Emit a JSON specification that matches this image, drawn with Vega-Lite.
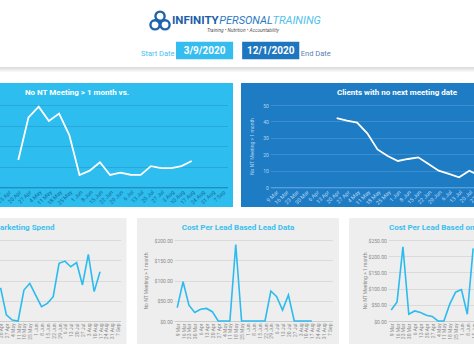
{
  "$schema": "https://vega.github.io/schema/vega-lite/v6.json",
  "padding": {"left": -79, "top": 0, "right": 0, "bottom": 0},
  "background": "#ffffff",
  "spacing": 11,
  "config": {"view": {"stroke": null}, "font": "Roboto"},
  "datasets": {
    "dates": [
      {"box": "Start", "date": "3/9/2020", "label": "Start Date"},
      {"box": "End", "date": "12/1/2020", "label": "End Date"}
    ],
    "brand": [{"word": "INFINITY"}, {"word": "PERSONAL"}, {"word": "TRAINING"}],
    "tagline": [{"text": "Training • Nutrition • Accountability"}],
    "noMeetingVs": [
      {"week": "20 Apr", "clients": 13.3}, {"week": "27 Apr", "clients": 34}, {"week": "4 May", "clients": 39.2},
      {"week": "11 May", "clients": 32.2}, {"week": "18 May", "clients": 35.8}, {"week": "25 May", "clients": 25.4},
      {"week": "1 Jun", "clients": 6}, {"week": "8 Jun", "clients": 8.1}, {"week": "15 Jun", "clients": 12.2},
      {"week": "22 Jun", "clients": 6}, {"week": "29 Jun", "clients": 7.1}, {"week": "6 Jul", "clients": 6.1},
      {"week": "13 Jul", "clients": 6}, {"week": "20 Jul", "clients": 10.3}, {"week": "27 Jul", "clients": 9.3},
      {"week": "3 Aug", "clients": 9.3}, {"week": "10 Aug", "clients": 10.3}, {"week": "17 Aug", "clients": 12.8}
    ],
    "noNextMeeting": [
      {"week": "20 Apr", "clients": 42}, {"week": "27 Apr", "clients": 40.5}, {"week": "4 May", "clients": 39.3},
      {"week": "11 May", "clients": 32.8}, {"week": "18 May", "clients": 23}, {"week": "25 May", "clients": 19},
      {"week": "1 Jun", "clients": 16}, {"week": "8 Jun", "clients": 17.2}, {"week": "15 Jun", "clients": 18.2},
      {"week": "22 Jun", "clients": 14.2}, {"week": "29 Jun", "clients": 10.1}, {"week": "6 Jul", "clients": 8.1},
      {"week": "13 Jul", "clients": 6.1}, {"week": "20 Jul", "clients": 10.1}, {"week": "27 Jul", "clients": 7}
    ],
    "marketingSpend": [
      {"week": "20 Apr", "spend": 164}, {"week": "27 Apr", "spend": 30}, {"week": "4 May", "spend": 5},
      {"week": "11 May", "spend": 0}, {"week": "18 May", "spend": 153}, {"week": "25 May", "spend": 186},
      {"week": "1 Jun", "spend": 128}, {"week": "8 Jun", "spend": 71}, {"week": "15 Jun", "spend": 87},
      {"week": "22 Jun", "spend": 120}, {"week": "29 Jun", "spend": 285}, {"week": "6 Jul", "spend": 296},
      {"week": "13 Jul", "spend": 268}, {"week": "20 Jul", "spend": 288}, {"week": "27 Jul", "spend": 178},
      {"week": "3 Aug", "spend": 329}, {"week": "10 Aug", "spend": 145}, {"week": "17 Aug", "spend": 243}
    ],
    "cplLeadData": [
      {"week": "9 Mar", "cost": 33}, {"week": "16 Mar", "cost": 97}, {"week": "23 Mar", "cost": 39},
      {"week": "30 Mar", "cost": 21}, {"week": "6 Apr", "cost": 29}, {"week": "13 Apr", "cost": 31},
      {"week": "20 Apr", "cost": 23}, {"week": "27 Apr", "cost": 0}, {"week": "4 May", "cost": 0},
      {"week": "11 May", "cost": 0}, {"week": "18 May", "cost": 189}, {"week": "25 May", "cost": 0},
      {"week": "1 Jun", "cost": 0}, {"week": "8 Jun", "cost": 0}, {"week": "15 Jun", "cost": 0},
      {"week": "22 Jun", "cost": 0}, {"week": "29 Jun", "cost": 74}, {"week": "6 Jul", "cost": 60},
      {"week": "13 Jul", "cost": 27}, {"week": "20 Jul", "cost": 64}, {"week": "27 Jul", "cost": 0},
      {"week": "3 Aug", "cost": 0}, {"week": "10 Aug", "cost": 0}, {"week": "17 Aug", "cost": 0}
    ],
    "cplSpend": [
      {"week": "9 Mar", "cost": 34}, {"week": "16 Mar", "cost": 59}, {"week": "23 Mar", "cost": 229},
      {"week": "30 Mar", "cost": 21}, {"week": "6 Apr", "cost": 31}, {"week": "13 Apr", "cost": 26},
      {"week": "20 Apr", "cost": 18}, {"week": "27 Apr", "cost": 14}, {"week": "4 May", "cost": 0},
      {"week": "11 May", "cost": 0}, {"week": "18 May", "cost": 52}, {"week": "25 May", "cost": 89},
      {"week": "1 Jun", "cost": 97}, {"week": "8 Jun", "cost": 21}, {"week": "15 Jun", "cost": 224}
    ]
  },
  "vconcat": [
    {
      "width": 632,
      "height": 72,
      "view": {"fill": "#ffffff", "stroke": null},
      "resolve": {"scale": {"x": "independent", "y": "independent", "color": "independent"}},
      "layer": [
        {
          "data": {"values": [{"part": "separator"}]},
          "mark": {"type": "rect", "color": {"gradient": "linear", "x1": 0, "y1": 0, "x2": 0, "y2": 1, "stops": [{"offset": 0, "color": "#d8d8d8"}, {"offset": 1, "color": "#fbfbfb"}]}},
          "encoding": {
            "y": {"field": "part", "type": "nominal", "scale": {"type": "band", "range": [67, 72], "paddingInner": 0, "paddingOuter": 0}, "axis": null}
          }
        },
        {
          "data": {"name": "dates"},
          "mark": {"type": "rect"},
          "encoding": {
            "x": {"field": "box", "type": "nominal", "scale": {"type": "band", "domain": ["Start", "End"], "range": [255, 378.3], "paddingInner": 0.136, "paddingOuter": 0}, "axis": null},
            "y": {"datum": "dates", "type": "nominal", "scale": {"type": "band", "domain": ["dates"], "range": [41.7, 59.3], "paddingInner": 0, "paddingOuter": 0}, "axis": null},
            "color": {"field": "box", "type": "nominal", "scale": {"domain": ["Start", "End"], "range": ["#34bdee", "#1e76bf"]}, "legend": null}
          }
        },
        {
          "data": {"name": "dates"},
          "mark": {"type": "text", "color": "#ffffff", "font": "Roboto", "fontWeight": "bold", "fontSize": 10, "baseline": "middle"},
          "encoding": {
            "x": {"field": "box", "type": "nominal", "scale": {"type": "band", "domain": ["Start", "End"], "range": [255, 378.3], "paddingInner": 0.136, "paddingOuter": 0}, "axis": null},
            "y": {"datum": "dates", "type": "nominal", "scale": {"type": "band", "domain": ["dates"], "range": [41.7, 59.3], "paddingInner": 0, "paddingOuter": 0}, "axis": null},
            "text": {"field": "date"}
          }
        },
        {
          "data": {"name": "dates"},
          "transform": [{"filter": "datum.box === 'Start'"}],
          "mark": {"type": "text", "align": "right", "dx": -1.5, "dy": 3.5, "baseline": "middle", "fontSize": 7.5, "color": "#45c2f0"},
          "encoding": {
            "x": {"field": "box", "type": "nominal", "bandPosition": 0, "scale": {"type": "band", "domain": ["Start", "End"], "range": [255, 378.3], "paddingInner": 0.136, "paddingOuter": 0}, "axis": null},
            "y": {"datum": "dates", "type": "nominal", "scale": {"type": "band", "domain": ["dates"], "range": [41.7, 59.3], "paddingInner": 0, "paddingOuter": 0}, "axis": null},
            "text": {"field": "label"}
          }
        },
        {
          "data": {"name": "dates"},
          "transform": [{"filter": "datum.box === 'End'"}],
          "mark": {"type": "text", "align": "left", "dx": 1.5, "dy": 3.5, "baseline": "middle", "fontSize": 7.5, "color": "#5a80b6"},
          "encoding": {
            "x": {"field": "box", "type": "nominal", "bandPosition": 1, "scale": {"type": "band", "domain": ["Start", "End"], "range": [255, 378.3], "paddingInner": 0.136, "paddingOuter": 0}, "axis": null},
            "y": {"datum": "dates", "type": "nominal", "scale": {"type": "band", "domain": ["dates"], "range": [41.7, 59.3], "paddingInner": 0, "paddingOuter": 0}, "axis": null},
            "text": {"field": "label"}
          }
        },
        {
          "data": {"name": "brand"},
          "transform": [{"filter": "datum.word === 'INFINITY'"}],
          "mark": {"type": "text", "font": "Roboto", "fontWeight": "bold", "fontSize": 11.5, "baseline": "middle", "color": "#1d5ea8"},
          "encoding": {
            "x": {"field": "word", "type": "nominal", "scale": {"type": "band", "domain": ["INFINITY", "PERSONAL", "TRAINING"], "range": [249, 401], "paddingInner": 0, "paddingOuter": 0}, "axis": null},
            "y": {"datum": "logo", "type": "nominal", "scale": {"type": "band", "domain": ["logo"], "range": [12, 30], "paddingInner": 0, "paddingOuter": 0}, "axis": null},
            "text": {"field": "word"}
          }
        },
        {
          "data": {"name": "brand"},
          "transform": [{"filter": "datum.word !== 'INFINITY'"}],
          "mark": {"type": "text", "font": "Roboto", "fontStyle": "italic", "fontSize": 11, "baseline": "middle"},
          "encoding": {
            "x": {"field": "word", "type": "nominal", "scale": {"type": "band", "domain": ["INFINITY", "PERSONAL", "TRAINING"], "range": [249, 401], "paddingInner": 0, "paddingOuter": 0}, "axis": null},
            "y": {"datum": "logo", "type": "nominal", "scale": {"type": "band", "domain": ["logo"], "range": [12, 30], "paddingInner": 0, "paddingOuter": 0}, "axis": null},
            "color": {"field": "word", "type": "nominal", "scale": {"domain": ["PERSONAL", "TRAINING"], "range": ["#2b79c2", "#4fc1ee"]}, "legend": null},
            "text": {"field": "word"}
          }
        },
        {
          "data": {"name": "tagline"},
          "mark": {"type": "text", "fontStyle": "italic", "fontSize": 4.8, "dx": -3, "dy": 9.5, "baseline": "middle", "color": "#555555"},
          "encoding": {
            "x": {"datum": "PERSONAL", "type": "nominal", "scale": {"type": "band", "domain": ["INFINITY", "PERSONAL", "TRAINING"], "range": [249, 401], "paddingInner": 0, "paddingOuter": 0}, "axis": null},
            "y": {"datum": "logo", "type": "nominal", "scale": {"type": "band", "domain": ["logo"], "range": [12, 30], "paddingInner": 0, "paddingOuter": 0}, "axis": null},
            "text": {"field": "text"}
          }
        },
        {
          "data": {"name": "brand"},
          "transform": [{"filter": "datum.word === 'INFINITY'"}],
          "mark": {"type": "point", "shape": "M-0.46,-0.48A0.46,0.46 0 1,1 0.46,-0.48A0.46,0.46 0 1,1 -0.46,-0.48ZM-0.96,0.38A0.46,0.46 0 1,1 -0.04,0.38A0.46,0.46 0 1,1 -0.96,0.38ZM0.04,0.38A0.46,0.46 0 1,1 0.96,0.38A0.46,0.46 0 1,1 0.04,0.38Z", "filled": false, "size": 400, "strokeWidth": 2.4, "opacity": 1, "color": "#1f63ad", "xOffset": -35.3},
          "encoding": {
            "x": {"field": "word", "type": "nominal", "scale": {"type": "band", "domain": ["INFINITY", "PERSONAL", "TRAINING"], "range": [249, 401], "paddingInner": 0, "paddingOuter": 0}, "axis": null},
            "y": {"datum": "logo", "type": "nominal", "scale": {"type": "band", "domain": ["logo"], "range": [12, 30], "paddingInner": 0, "paddingOuter": 0}, "axis": null}
          }
        }
      ]
    },
    {
      "spacing": 8,
      "hconcat": [
        {
          "width": 312,
          "height": 124,
          "view": {"fill": "#2dbdee", "stroke": null},
          "title": {"text": "No NT Meeting > 1 month vs.", "color": "#ffffff", "fontSize": 8, "fontWeight": "bold", "anchor": "middle", "frame": "group", "offset": -18, "baseline": "middle"},
          "data": {"name": "noMeetingVs"},
          "mark": {"type": "line", "color": "#ffffff", "strokeWidth": 1.8},
          "encoding": {
            "x": {"field": "week", "type": "ordinal", "sort": null,
              "scale": {"type": "point", "domain": ["9 Mar","16 Mar","23 Mar","30 Mar","6 Apr","13 Apr","20 Apr","27 Apr","4 May","11 May","18 May","25 May","1 Jun","8 Jun","15 Jun","22 Jun","29 Jun","6 Jul","13 Jul","20 Jul","27 Jul","3 Aug","10 Aug","17 Aug","24 Aug","31 Aug","7 Sep"], "range": [31, 306.4], "padding": 0.5},
              "axis": {"title": null, "offset": -19.7, "labelAngle": -45, "labelFontSize": 5.5, "labelColor": "#1b6e9b", "labelPadding": 2, "ticks": false, "domainColor": "#1a86b5", "grid": false, "labelOverlap": false}},
            "y": {"field": "clients", "type": "quantitative",
              "scale": {"domain": [0, 40], "range": [104.3, 22], "nice": false},
              "axis": {"values": [0, 10, 20, 30, 40], "offset": -31, "domain": false, "ticks": false, "grid": true, "gridColor": "#27a8d8", "labelFontSize": 5, "labelColor": "#1b6e9b", "title": "No NT Meeting > 1 month", "titleFontSize": 5, "titleColor": "#1b6e9b", "titleFontWeight": "normal", "titlePadding": 8}}
          }
        },
        {
          "width": 312,
          "height": 124,
          "view": {"fill": "#1e7cc4", "stroke": null},
          "title": {"text": "Clients with no next meeting date", "color": "#ffffff", "fontSize": 8, "fontWeight": "bold", "anchor": "middle", "frame": "group", "offset": -18, "baseline": "middle"},
          "data": {"name": "noNextMeeting"},
          "mark": {"type": "line", "color": "#ffffff", "strokeWidth": 1.8},
          "encoding": {
            "x": {"field": "week", "type": "ordinal", "sort": null,
              "scale": {"type": "point", "domain": ["9 Mar","16 Mar","23 Mar","30 Mar","6 Apr","13 Apr","20 Apr","27 Apr","4 May","11 May","18 May","25 May","1 Jun","8 Jun","15 Jun","22 Jun","29 Jun","6 Jul","13 Jul","20 Jul","27 Jul","3 Aug","10 Aug","17 Aug","24 Aug","31 Aug","7 Sep"], "range": [29.4, 304.8], "padding": 0.5},
              "axis": {"title": null, "offset": -19.7, "labelAngle": -45, "labelFontSize": 5.5, "labelColor": "#b3d3ef", "labelPadding": 2, "ticks": false, "domainColor": "#62a7de", "grid": false, "labelOverlap": false}},
            "y": {"field": "clients", "type": "quantitative",
              "scale": {"domain": [0, 50], "range": [104.3, 22], "nice": false},
              "axis": {"values": [0, 10, 20, 30, 40, 50], "offset": -29.4, "domain": false, "ticks": false, "grid": true, "gridColor": "#3a8ed0", "labelFontSize": 5, "labelColor": "#b3d3ef", "title": "No NT Meeting > 1 month", "titleFontSize": 5, "titleColor": "#b3d3ef", "titleFontWeight": "normal", "titlePadding": 8}}
          }
        }
      ]
    },
    {
      "spacing": 10,
      "hconcat": [
        {
          "width": 205.5,
          "height": 126,
          "view": {"fill": "#eeeeee", "stroke": null},
          "title": {"text": "Marketing Spend", "color": "#3bbfee", "fontSize": 8, "fontWeight": "bold", "anchor": "middle", "frame": "group", "offset": -17.5, "baseline": "middle"},
          "data": {"name": "marketingSpend"},
          "mark": {"type": "line", "color": "#2bbbee", "strokeWidth": 1.6},
          "encoding": {
            "x": {"field": "week", "type": "ordinal", "sort": null,
              "scale": {"type": "point", "domain": ["9 Mar","16 Mar","23 Mar","30 Mar","6 Apr","13 Apr","20 Apr","27 Apr","4 May","11 May","18 May","25 May","1 Jun","8 Jun","15 Jun","22 Jun","29 Jun","6 Jul","13 Jul","20 Jul","27 Jul","3 Aug","10 Aug","17 Aug","24 Aug","31 Aug","7 Sep"], "range": [41.5, 199.5], "padding": 0.5},
              "axis": {"title": null, "offset": -23, "labelAngle": -90, "labelFontSize": 5, "labelColor": "#8a8a8a", "labelPadding": 2, "ticks": false, "domainColor": "#cccccc", "grid": false, "labelOverlap": false}},
            "y": {"field": "spend", "type": "quantitative",
              "scale": {"domain": [0, 400], "range": [103, 22], "nice": false},
              "axis": {"values": [0, 100, 200, 300, 400], "format": "$,.2f", "offset": -41.5, "domain": false, "ticks": false, "grid": true, "gridColor": "#dadada", "labelFontSize": 5, "labelColor": "#8a8a8a", "title": "Spend", "titleFontSize": 5, "titleColor": "#8a8a8a", "titleFontWeight": "normal", "titlePadding": 5}}
          }
        },
        {
          "width": 202,
          "height": 126,
          "view": {"fill": "#eeeeee", "stroke": null},
          "title": {"text": "Cost Per Lead Based Lead Data", "color": "#3bbfee", "fontSize": 8, "fontWeight": "bold", "anchor": "middle", "frame": "group", "offset": -17.5, "baseline": "middle"},
          "data": {"name": "cplLeadData"},
          "mark": {"type": "line", "color": "#2bbbee", "strokeWidth": 1.6},
          "encoding": {
            "x": {"field": "week", "type": "ordinal", "sort": null,
              "scale": {"type": "point", "domain": ["9 Mar","16 Mar","23 Mar","30 Mar","6 Apr","13 Apr","20 Apr","27 Apr","4 May","11 May","18 May","25 May","1 Jun","8 Jun","15 Jun","22 Jun","29 Jun","6 Jul","13 Jul","20 Jul","27 Jul","3 Aug","10 Aug","17 Aug","24 Aug","31 Aug","7 Sep"], "range": [37.3, 195.3], "padding": 0.5},
              "axis": {"title": null, "offset": -23, "labelAngle": -90, "labelFontSize": 5, "labelColor": "#8a8a8a", "labelPadding": 2, "ticks": false, "domainColor": "#cccccc", "grid": false, "labelOverlap": false}},
            "y": {"field": "cost", "type": "quantitative",
              "scale": {"domain": [0, 200], "range": [103, 22], "nice": false},
              "axis": {"values": [0, 50, 100, 150, 200], "format": "$,.2f", "offset": -37.3, "domain": false, "ticks": false, "grid": true, "gridColor": "#dadada", "labelFontSize": 5, "labelColor": "#8a8a8a", "title": "No NT Meeting > 1 month", "titleFontSize": 5, "titleColor": "#8a8a8a", "titleFontWeight": "normal", "titlePadding": 5.5}}
          }
        },
        {
          "width": 202,
          "height": 126,
          "view": {"fill": "#eeeeee", "stroke": null},
          "title": {"text": "Cost Per Lead Based on Ad Spend", "color": "#3bbfee", "fontSize": 8, "fontWeight": "bold", "anchor": "middle", "frame": "group", "offset": -17.5, "baseline": "middle"},
          "data": {"name": "cplSpend"},
          "mark": {"type": "line", "color": "#2bbbee", "strokeWidth": 1.6},
          "encoding": {
            "x": {"field": "week", "type": "ordinal", "sort": null,
              "scale": {"type": "point", "domain": ["9 Mar","16 Mar","23 Mar","30 Mar","6 Apr","13 Apr","20 Apr","27 Apr","4 May","11 May","18 May","25 May","1 Jun","8 Jun","15 Jun","22 Jun","29 Jun","6 Jul","13 Jul","20 Jul","27 Jul","3 Aug","10 Aug","17 Aug","24 Aug","31 Aug","7 Sep"], "range": [39.3, 197.3], "padding": 0.5},
              "axis": {"title": null, "offset": -23, "labelAngle": -90, "labelFontSize": 5, "labelColor": "#8a8a8a", "labelPadding": 2, "ticks": false, "domainColor": "#cccccc", "grid": false, "labelOverlap": false}},
            "y": {"field": "cost", "type": "quantitative",
              "scale": {"domain": [0, 250], "range": [103, 22], "nice": false},
              "axis": {"values": [0, 50, 100, 150, 200, 250], "format": "$,.2f", "offset": -39.3, "domain": false, "ticks": false, "grid": true, "gridColor": "#dadada", "labelFontSize": 5, "labelColor": "#8a8a8a", "title": "No NT Meeting > 1 month", "titleFontSize": 5, "titleColor": "#8a8a8a", "titleFontWeight": "normal", "titlePadding": 0.5}}
          }
        }
      ]
    }
  ]
}
